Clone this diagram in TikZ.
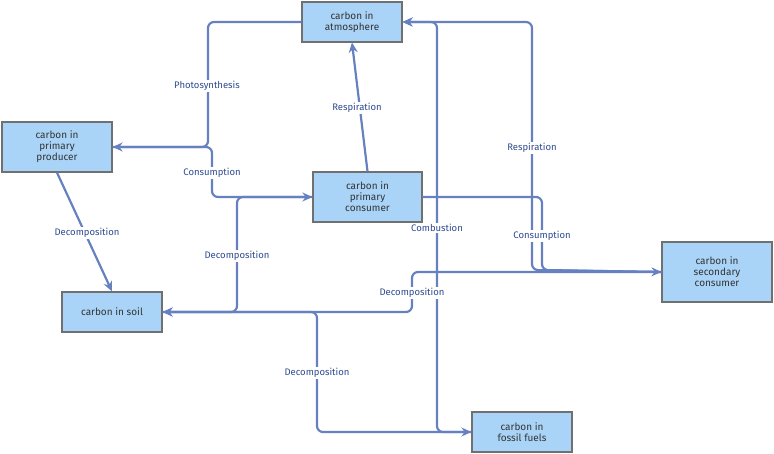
\documentclass[tikz,border=0pt]{standalone}
\usepackage{fontspec}
\setmainfont{Fira Sans}
\usetikzlibrary{arrows.meta}
\definecolor{boxfill}{HTML}{A9D4F7}
\definecolor{boxline}{HTML}{707070}
\definecolor{edge}{HTML}{6681C0}
\definecolor{lbl}{HTML}{2E4A8E}
\begin{document}
\begin{tikzpicture}[x=1pt,y=-1pt,
  box/.style={draw=boxline,line width=1.2pt,fill=boxfill,inner sep=0pt,align=center,font=\fontsize{10}{11}\selectfont,text=black!80},
  con/.style={draw=edge,line width=2.2pt,rounded corners=6pt,-{Stealth[length=10pt,width=9pt]}},
  lab/.style={fill=white,text=lbl,font=\fontsize{9.5}{11}\selectfont,inner sep=1pt}]
\useasboundingbox (0,0) rectangle (774,454);
\node[box,minimum width=100pt,minimum height=40pt] (atm) at (352,22) {carbon in\\atmosphere};
\node[box,minimum width=110pt,minimum height=50pt] (pp) at (57,147) {carbon in\\primary\\producer};
\node[box,minimum width=109pt,minimum height=50pt] (pc) at (367.5,197) {carbon in\\primary\\consumer};
\node[box,minimum width=100pt,minimum height=40pt] (soil) at (112,312) {carbon in soil};
\node[box,minimum width=110pt,minimum height=60pt] (sc) at (717,272) {carbon in\\secondary\\consumer};
\node[box,minimum width=100pt,minimum height=40pt] (ff) at (522,432) {carbon in\\fossil fuels};
\coordinate (a1) at (208,22);
\coordinate (a2) at (208,147);
\draw[con] (atm.west) -- (a1) -- (a2) -- (pp.east);
\draw[con] (pp.east) -- (212,147) -- (212,197) -- (pc.west);
\draw[con] (pc.north) -- (atm.south);
\draw[con] (pp.south) -- (soil.north);
\draw[con] (pc.west) -- (237,197) -- (237,312) -- (soil.east);
\draw[con] (pc.east) -- (542,197) -- (542,270) -- (sc.west);
\draw[con] (sc.west) -- (532,270) -- (532,22) -- (atm.east);
\draw[con] (ff.west) -- (437,432) -- (437,22) -- (atm.east);
\draw[con] (sc.west) -- (412,272) -- (412,312) -- (soil.east);
\draw[con] (soil.east) -- (317,312) -- (317,432) -- (ff.west);
\node[lab] (l1) at (207,86) {Photosynthesis};
\node[lab] (l2) at (212,173) {Consumption};
\node[lab] (l3) at (357,108) {Respiration};
\node[lab] (l4) at (87,233) {Decomposition};
\node[lab] (l5) at (237,256) {Decomposition};
\node[lab] (l6) at (532,148) {Respiration};
\node[lab] (l7) at (437,228) {Combustion};
\node[lab] (l8) at (542,236) {Consumption};
\node[lab] (l9) at (412,293) {Decomposition};
\node[lab] (l10) at (317,373) {Decomposition};
\end{tikzpicture}
\end{document}
